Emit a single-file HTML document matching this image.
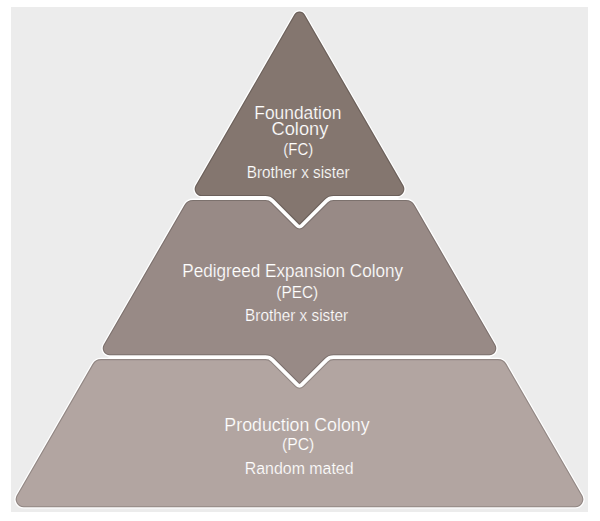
<!DOCTYPE html>
<html><head><meta charset="utf-8"><style>
html,body{margin:0;padding:0;background:#fff;}
body{width:600px;height:521px;position:relative;overflow:hidden;font-family:"Liberation Sans",sans-serif;}
.panel{position:absolute;left:11px;top:7px;width:577px;height:505px;background:#ececec;}
svg{position:absolute;left:0;top:0;}
.t{position:absolute;left:0;width:600px;text-align:center;color:#fff;white-space:nowrap;}
</style></head><body>
<div class="panel"></div>
<svg width="600" height="521" viewBox="0 0 600 521">
<defs><clipPath id="c0"><path d="M294.30,14.60 A6.0,6.0 0 0 1 304.70,14.60 L403.42,185.60 A7.0,7.0 0 0 1 397.36,196.10 L333.39,196.10 A11.8,11.8 0 0 0 325.04,199.56 L300.21,224.39 A1.0,1.0 0 0 1 298.79,224.39 L273.96,199.56 A11.8,11.8 0 0 0 265.61,196.10 L201.64,196.10 A7.0,7.0 0 0 1 195.58,185.60 Z"/></clipPath><clipPath id="c1"><path d="M184.43,204.90 A10.0,10.0 0 0 1 193.09,199.90 L265.61,199.90 A8.0,8.0 0 0 1 271.27,202.24 L296.11,227.08 A4.8,4.8 0 0 0 302.89,227.08 L327.73,202.24 A8.0,8.0 0 0 1 333.39,199.90 L405.91,199.90 A10.0,10.0 0 0 1 414.57,204.90 L495.34,344.80 A7.0,7.0 0 0 1 489.28,355.30 L333.39,355.30 A11.8,11.8 0 0 0 325.04,358.76 L300.21,383.59 A1.0,1.0 0 0 1 298.79,383.59 L273.96,358.76 A11.8,11.8 0 0 0 265.61,355.30 L109.72,355.30 A7.0,7.0 0 0 1 103.66,344.80 Z"/></clipPath><clipPath id="c2"><path d="M92.52,364.10 A10.0,10.0 0 0 1 101.18,359.10 L265.61,359.10 A8.0,8.0 0 0 1 271.27,361.44 L296.11,386.28 A4.8,4.8 0 0 0 302.89,386.28 L327.73,361.44 A8.0,8.0 0 0 1 333.39,359.10 L497.82,359.10 A10.0,10.0 0 0 1 506.48,364.10 L582.23,495.30 A8.0,8.0 0 0 1 575.30,507.30 L23.70,507.30 A8.0,8.0 0 0 1 16.77,495.30 Z"/></clipPath></defs>
<path d="M200.42,198.00 L269.71,198.00 L299.50,227.79 L329.29,198.00 L398.58,198.00" fill="none" stroke="#fff" stroke-width="2" stroke-linejoin="round"/>
<path d="M108.50,357.20 L269.71,357.20 L299.50,386.99 L329.29,357.20 L490.50,357.20" fill="none" stroke="#fff" stroke-width="2" stroke-linejoin="round"/>
<path d="M294.30,14.60 A6.0,6.0 0 0 1 304.70,14.60 L403.42,185.60 A7.0,7.0 0 0 1 397.36,196.10 L333.39,196.10 A11.8,11.8 0 0 0 325.04,199.56 L300.21,224.39 A1.0,1.0 0 0 1 298.79,224.39 L273.96,199.56 A11.8,11.8 0 0 0 265.61,196.10 L201.64,196.10 A7.0,7.0 0 0 1 195.58,185.60 Z" fill="#84766f" stroke="#fff" stroke-width="2.6" stroke-linejoin="round" paint-order="stroke"/>
<path d="M294.30,14.60 A6.0,6.0 0 0 1 304.70,14.60 L403.42,185.60 A7.0,7.0 0 0 1 397.36,196.10 L333.39,196.10 A11.8,11.8 0 0 0 325.04,199.56 L300.21,224.39 A1.0,1.0 0 0 1 298.79,224.39 L273.96,199.56 A11.8,11.8 0 0 0 265.61,196.10 L201.64,196.10 A7.0,7.0 0 0 1 195.58,185.60 Z" fill="none" stroke="#000" stroke-opacity="0.18" stroke-width="2.2" clip-path="url(#c0)"/>
<path d="M184.43,204.90 A10.0,10.0 0 0 1 193.09,199.90 L265.61,199.90 A8.0,8.0 0 0 1 271.27,202.24 L296.11,227.08 A4.8,4.8 0 0 0 302.89,227.08 L327.73,202.24 A8.0,8.0 0 0 1 333.39,199.90 L405.91,199.90 A10.0,10.0 0 0 1 414.57,204.90 L495.34,344.80 A7.0,7.0 0 0 1 489.28,355.30 L333.39,355.30 A11.8,11.8 0 0 0 325.04,358.76 L300.21,383.59 A1.0,1.0 0 0 1 298.79,383.59 L273.96,358.76 A11.8,11.8 0 0 0 265.61,355.30 L109.72,355.30 A7.0,7.0 0 0 1 103.66,344.80 Z" fill="#988a86" stroke="#fff" stroke-width="2.6" stroke-linejoin="round" paint-order="stroke"/>
<path d="M184.43,204.90 A10.0,10.0 0 0 1 193.09,199.90 L265.61,199.90 A8.0,8.0 0 0 1 271.27,202.24 L296.11,227.08 A4.8,4.8 0 0 0 302.89,227.08 L327.73,202.24 A8.0,8.0 0 0 1 333.39,199.90 L405.91,199.90 A10.0,10.0 0 0 1 414.57,204.90 L495.34,344.80 A7.0,7.0 0 0 1 489.28,355.30 L333.39,355.30 A11.8,11.8 0 0 0 325.04,358.76 L300.21,383.59 A1.0,1.0 0 0 1 298.79,383.59 L273.96,358.76 A11.8,11.8 0 0 0 265.61,355.30 L109.72,355.30 A7.0,7.0 0 0 1 103.66,344.80 Z" fill="none" stroke="#000" stroke-opacity="0.18" stroke-width="2.2" clip-path="url(#c1)"/>
<path d="M92.52,364.10 A10.0,10.0 0 0 1 101.18,359.10 L265.61,359.10 A8.0,8.0 0 0 1 271.27,361.44 L296.11,386.28 A4.8,4.8 0 0 0 302.89,386.28 L327.73,361.44 A8.0,8.0 0 0 1 333.39,359.10 L497.82,359.10 A10.0,10.0 0 0 1 506.48,364.10 L582.23,495.30 A8.0,8.0 0 0 1 575.30,507.30 L23.70,507.30 A8.0,8.0 0 0 1 16.77,495.30 Z" fill="#b2a5a1" stroke="#fff" stroke-width="2.6" stroke-linejoin="round" paint-order="stroke"/>
<path d="M92.52,364.10 A10.0,10.0 0 0 1 101.18,359.10 L265.61,359.10 A8.0,8.0 0 0 1 271.27,361.44 L296.11,386.28 A4.8,4.8 0 0 0 302.89,386.28 L327.73,361.44 A8.0,8.0 0 0 1 333.39,359.10 L497.82,359.10 A10.0,10.0 0 0 1 506.48,364.10 L582.23,495.30 A8.0,8.0 0 0 1 575.30,507.30 L23.70,507.30 A8.0,8.0 0 0 1 16.77,495.30 Z" fill="none" stroke="#000" stroke-opacity="0.18" stroke-width="2.2" clip-path="url(#c2)"/>
<g fill="#fff" font-family="Liberation Sans, sans-serif"><text stroke="#84766f" stroke-width="0.2" x="297.82" y="118.80" font-size="17.5" text-anchor="middle" textLength="87.03" lengthAdjust="spacingAndGlyphs">Foundation</text>
<text stroke="#84766f" stroke-width="0.2" x="299.95" y="135.30" font-size="17.5" text-anchor="middle" textLength="56.86" lengthAdjust="spacingAndGlyphs">Colony</text>
<text stroke="#84766f" stroke-width="0.2" x="298.25" y="154.80" font-size="16.0" text-anchor="middle" textLength="29.89" lengthAdjust="spacingAndGlyphs">(FC)</text>
<text stroke="#84766f" stroke-width="0.2" x="298.20" y="177.90" font-size="16.0" text-anchor="middle" textLength="102.79" lengthAdjust="spacingAndGlyphs">Brother x sister</text>
<text stroke="#988a86" stroke-width="0.2" x="292.70" y="277.40" font-size="17.5" text-anchor="middle" textLength="220.76" lengthAdjust="spacingAndGlyphs">Pedigreed Expansion Colony</text>
<text stroke="#988a86" stroke-width="0.2" x="297.20" y="298.40" font-size="16.0" text-anchor="middle" textLength="41.84" lengthAdjust="spacingAndGlyphs">(PEC)</text>
<text stroke="#988a86" stroke-width="0.2" x="296.60" y="321.20" font-size="16.0" text-anchor="middle" textLength="102.99" lengthAdjust="spacingAndGlyphs">Brother x sister</text>
<text stroke="#b2a5a1" stroke-width="0.2" x="297.00" y="430.50" font-size="17.5" text-anchor="middle" textLength="145.23" lengthAdjust="spacingAndGlyphs">Production Colony</text>
<text stroke="#b2a5a1" stroke-width="0.2" x="298.10" y="450.40" font-size="16.0" text-anchor="middle" textLength="32.40" lengthAdjust="spacingAndGlyphs">(PC)</text>
<text stroke="#b2a5a1" stroke-width="0.2" x="299.15" y="473.50" font-size="16.0" text-anchor="middle" textLength="108.73" lengthAdjust="spacingAndGlyphs">Random mated</text></g>
</svg>
</body></html>
